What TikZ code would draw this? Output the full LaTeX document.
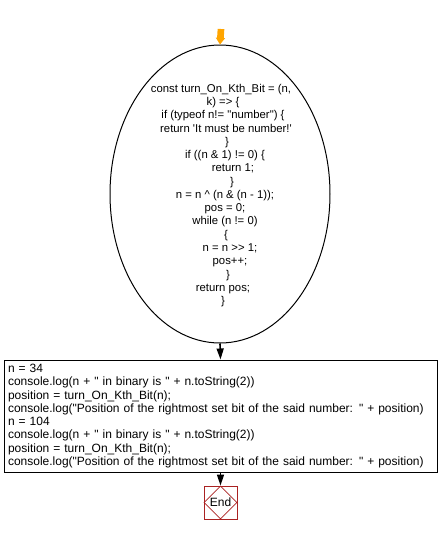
\documentclass[tikz,border=0pt]{standalone}
\usepackage{fontspec}
\newfontfamily\codefont{Liberation Sans}
\usetikzlibrary{shapes.geometric,arrows.meta}
\newlength\pxl
\setlength\pxl{0.75pt}
\newcommand\ind[1]{\hspace*{#1\pxl}}
\definecolor{endred}{RGB}{170,34,34}
\definecolor{startorange}{RGB}{255,165,0}
\tikzset{
  codetext/.style={font=\codefont\fontsize{8.5pt}{9.95pt}\selectfont},
  boxtext/.style={font=\codefont\fontsize{9pt}{9.95pt}\selectfont},
  funcell/.style={ellipse,draw=black,line width=0.75pt,minimum width=165pt,minimum height=223.5pt,inner sep=0pt},
  funtext/.style={align=center,inner sep=0pt,codetext},
  codebox/.style={rectangle,draw=black,line width=0.75pt,minimum width=324.75pt,minimum height=84pt,text width=318.75pt,inner xsep=3pt,inner ysep=0pt,align=left,boxtext},
  endbox/.style={rectangle,draw=endred,line width=0.75pt,minimum width=24.75pt,minimum height=24.75pt,inner sep=0pt,boxtext},
  enddia/.style={diamond,draw=endred,line width=0.6pt,minimum width=24.75pt,minimum height=24.75pt,inner sep=0pt},
  flow/.style={line width=1.2pt,-{Triangle[length=8.25pt,width=5.25pt]}},
  startflow/.style={startorange,line width=5pt,-{Triangle[length=5pt,width=6.75pt]}}
}
\begin{document}
\begin{tikzpicture}[x=0.75pt,y=-0.75pt]
\useasboundingbox (0,0) rectangle (438,533);
\coordinate (start) at (221,29);
\node[funcell] (fn) at (220,194) {};
\node[funtext] (fntext) at (221,195.5) {const turn\_On\_Kth\_Bit = (n,\\
\ind{4}k) => \{\\
\ind{4}if (typeof n!= "number") \{\\
\ind{10}return \textquotesingle It must be number!\textquotesingle\\
\ind{12}\}\\
\ind{8}if ((n \& 1) != 0) \{\\
\ind{24}return 1;\\
\ind{22}\}\\
\ind{8}n = n \textasciicircum\ (n \& (n - 1));\\
\ind{8}pos = 0;\\
\ind{8}while (n != 0)\\
\ind{10}\{\\
\ind{18}n = n >> 1;\\
\ind{18}pos++;\\
\ind{14}\}\\
\ind{4}return pos;\\
\ind{4}\}};
\node[codebox] (main) at (220.5,416) {n = 34\\
console.log(n + " in binary is " + n.toString(2))\\
position = turn\_On\_Kth\_Bit(n);\\
console.log("Position of the rightmost set bit of the said number: " + position)\\
n = 104\\
console.log(n + " in binary is " + n.toString(2))\\
position = turn\_On\_Kth\_Bit(n);\\
console.log("Position of the rightmost set bit of the said number: " + position)};
\node[endbox] (end) at (220.5,502.5) {End};
\node[enddia] (enddiamond) at (end.center) {};
\draw[startflow] (start) -- (fn.north);
\draw[flow] (fn.south) -- (main.north);
\draw[flow] (main.south) -- (end.north);
\end{tikzpicture}
\end{document}
